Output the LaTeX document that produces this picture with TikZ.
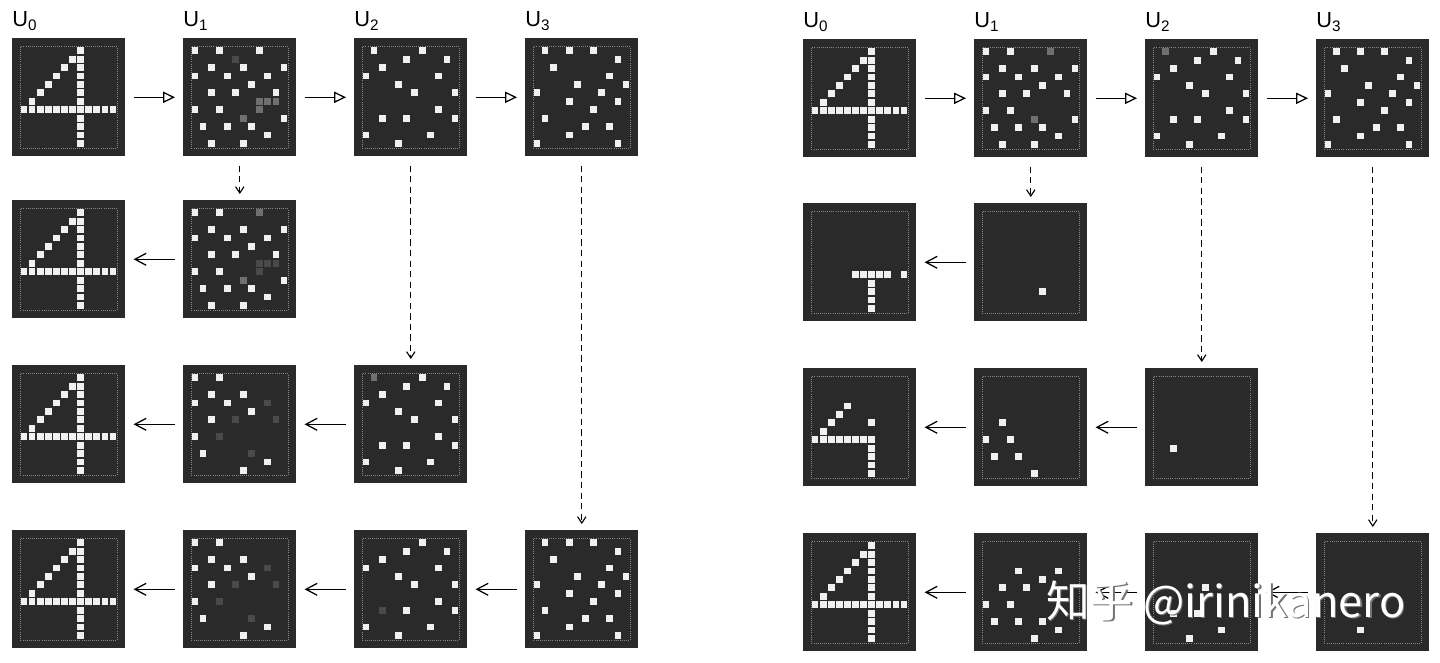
\documentclass[tikz,border=0pt]{standalone}
\usepackage{fontspec}
\usepackage{tikz}
\usetikzlibrary{arrows.meta,calc,positioning}
\newfontfamily\labelfont{Liberation Sans}
\newfontfamily\cjk{Noto Sans CJK SC}
\definecolor{boxcol}{RGB}{42,42,42}
\definecolor{framecol}{RGB}{135,135,135}
\definecolor{pixw}{RGB}{240,240,240}
\definecolor{pixg}{RGB}{112,112,112}
\definecolor{pixd}{RGB}{74,74,74}

% lit cells i/j of the 14x14 raster inside box #2
\newcommand{\pix}[3][pixw]{%
  \begin{scope}[shift={(#2.north west)}]
    \foreach \i/\j in {#3}
      \fill[#1] ({8.07*\i+0.75},{8.43*\j+0.85}) rectangle ++(6.6,6.8);
  \end{scope}}
\newcommand{\four}[1]{%
  \pix{#1}{7/2,6/3,5/4,4/5,3/6,2/7,1/8,2/8,3/8,4/8,5/8,6/8,7/8,8/8,9/8,10/8,11/8,12/8,
    8/1,8/2,8/3,8/4,8/5,8/6,8/7,8/9,8/10,8/11,8/12}}

\tikzset{
  gridbox/.style={fill=boxcol, anchor=north west, inner sep=0pt,
    minimum width=2.825cm, minimum height=2.95cm,
    path picture={\draw[framecol, densely dotted, line width=0.5pt]
      ([shift={(8.07,8.43)}]path picture bounding box.north west) rectangle
      ([shift={(-8.07,-8.43)}]path picture bounding box.south east);}},
  fwdarrow/.style={line width=0.9pt, shorten <=0.2cm, shorten >=0.2cm,
    -{Triangle[open,length=8.5pt,width=8pt]}},
  backarrow/.style={line width=0.9pt, shorten <=0.2cm, shorten >=0.2cm,
    -{Straight Barb[length=8pt,width=8.5pt]}},
  jumparrow/.style={line width=0.8pt, dash pattern=on 4.5pt off 3pt,
    shorten <=0.225cm, shorten >=0.15cm, -{Straight Barb[length=4.5pt,width=6pt]}},
  ulab/.style={font=\labelfont\fontsize{15.5}{18}\selectfont, inner sep=0pt, anchor=base west},
  wmark/.style={font=\cjk\fontsize{31}{36}\selectfont, text=white, inner sep=0pt},
}

\begin{document}
\begin{tikzpicture}[x=0.025cm, y=-0.025cm]
\useasboundingbox (0,0) rectangle (1440,663);
% boxes: row r holds columns 0..last, 171px pitch
\foreach \r/\y/\last in {0/38/3,1/200/1,2/365/2,3/530/3}
  \foreach \c in {0,...,\last}
    \node[gridbox] (L\r\c) at ({12+171*\c},\y) {};
\foreach \r/\y/\last in {0/39/3,1/203/1,2/368/2,3/533/3}
  \foreach \c in {0,...,\last}
    \node[gridbox] (R\r\c) at ({803+171*\c},\y) {};
\foreach \c in {0,...,3} {
  \node[ulab] (uL\c) at ([yshift=0.28cm]L0\c.north west) {U\textsubscript{\c}};
  \node[ulab] (uR\c) at ([yshift=0.28cm]R0\c.north west) {U\textsubscript{\c}};
}

% left panel
\four{L00} \four{L10} \four{L20} \four{L30}
\pix{L01}{1/1,4/1,9/1,3/3,7/3,12/3,1/4,5/4,10/4,8/5,3/6,6/6,11/6,1/8,4/8,12/9,2/10,5/10,8/10,10/11,3/12,7/12}
\pix[pixg]{L01}{9/7,10/7,11/7,9/8,7/9}
\pix[pixd]{L01}{6/2}
\pix{L02}{2/1,8/1,6/2,11/2,3/3,1/4,10/4,5/5,7/6,12/6,10/8,3/9,6/9,12/9,1/11,9/11,5/12}
\pix{L03}{2/1,5/1,8/1,11/2,3/3,10/4,6/5,12/5,1/6,9/6,5/7,11/7,8/8,2/9,7/10,10/10,5/11,1/12,11/12}
\pix{L11}{1/1,4/1,3/3,7/3,12/3,1/4,5/4,10/4,8/5,3/6,6/6,11/6,1/8,4/8,12/9,2/10,5/10,8/10,10/11,3/12,7/12}
\pix[pixg]{L11}{9/1,7/9}
\pix[pixd]{L11}{9/7,10/7,11/7,9/8}
\pix{L21}{1/1,4/1,3/3,7/3,1/4,5/4,8/5,3/6,1/8,2/10,10/11,7/12}
\pix[pixd]{L21}{10/4,6/6,11/6,4/8,8/10}
\pix{L22}{8/1,6/2,11/2,3/3,1/4,10/4,5/5,7/6,12/6,10/8,3/9,6/9,12/9,1/11,9/11,5/12}
\pix[pixg]{L22}{2/1}
\pix{L31}{1/1,4/1,3/3,7/3,1/4,5/4,8/5,3/6,1/8,2/10,10/11,7/12}
\pix[pixd]{L31}{10/4,6/6,11/6,4/8,8/10}
\pix{L32}{8/1,6/2,11/2,3/3,1/4,10/4,5/5,7/6,12/6,10/8,6/9,12/9,1/11,9/11,5/12}
\pix[pixd]{L32}{3/9}
\pix{L33}{2/1,5/1,8/1,11/2,3/3,10/4,6/5,12/5,1/6,9/6,5/7,11/7,8/8,2/9,7/10,10/10,5/11,1/12,11/12}

% right panel
\four{R00} \four{R30}
\pix{R01}{1/1,4/1,3/3,7/3,12/3,1/4,5/4,10/4,8/5,3/6,6/6,11/6,1/8,4/8,12/9,2/10,5/10,8/10,10/11,3/12,7/12}
\pix[pixg]{R01}{9/1,7/9}
\pix{R02}{8/1,6/2,11/2,3/3,1/4,10/4,5/5,7/6,12/6,10/8,3/9,6/9,12/9,1/11,9/11,5/12}
\pix[pixg]{R02}{2/1}
\pix{R03}{2/1,5/1,8/1,11/2,3/3,10/4,6/5,12/5,1/6,9/6,5/7,11/7,8/8,2/9,7/10,10/10,5/11,1/12,11/12}
\pix{R10}{6/8,7/8,8/8,9/8,10/8,12/8,8/9,8/10,8/11,8/12}
\pix{R11}{8/10}
\pix{R20}{5/4,4/5,3/6,8/6,2/7,1/8,2/8,3/8,4/8,5/8,6/8,7/8,8/8,8/9,8/10,8/11,8/12}
\pix{R21}{3/6,1/8,4/8,2/10,5/10,7/12}
\pix{R22}{3/9}
\pix{R31}{5/4,10/4,8/5,3/6,6/6,1/8,4/8,2/10,5/10,8/10,10/11,7/12}
\pix{R32}{7/6,3/9,6/9,9/11,5/12}
\pix{R33}{5/11}

% arrows, same in both panels
\foreach \p in {L,R} {
  \foreach \a/\b in {00/01,01/02,02/03} \draw[fwdarrow] (\p\a) -- (\p\b);
  \foreach \a/\b in {01/11,02/22,03/33} \draw[jumparrow] (\p\a) -- (\p\b);
  \foreach \a/\b in {11/10,22/21,21/20,33/32,32/31,31/30} \draw[backarrow] (\p\a) -- (\p\b);
}

% watermark
\coordinate (wmpos) at (1226,603);
\node[wmark, text=black!55] (wmsh) at ([shift={(1.3,1.3)}]wmpos) {知乎 @irinikanero};
\node[wmark] (wm) at (wmpos) {知乎 @irinikanero};
\end{tikzpicture}
\end{document}
